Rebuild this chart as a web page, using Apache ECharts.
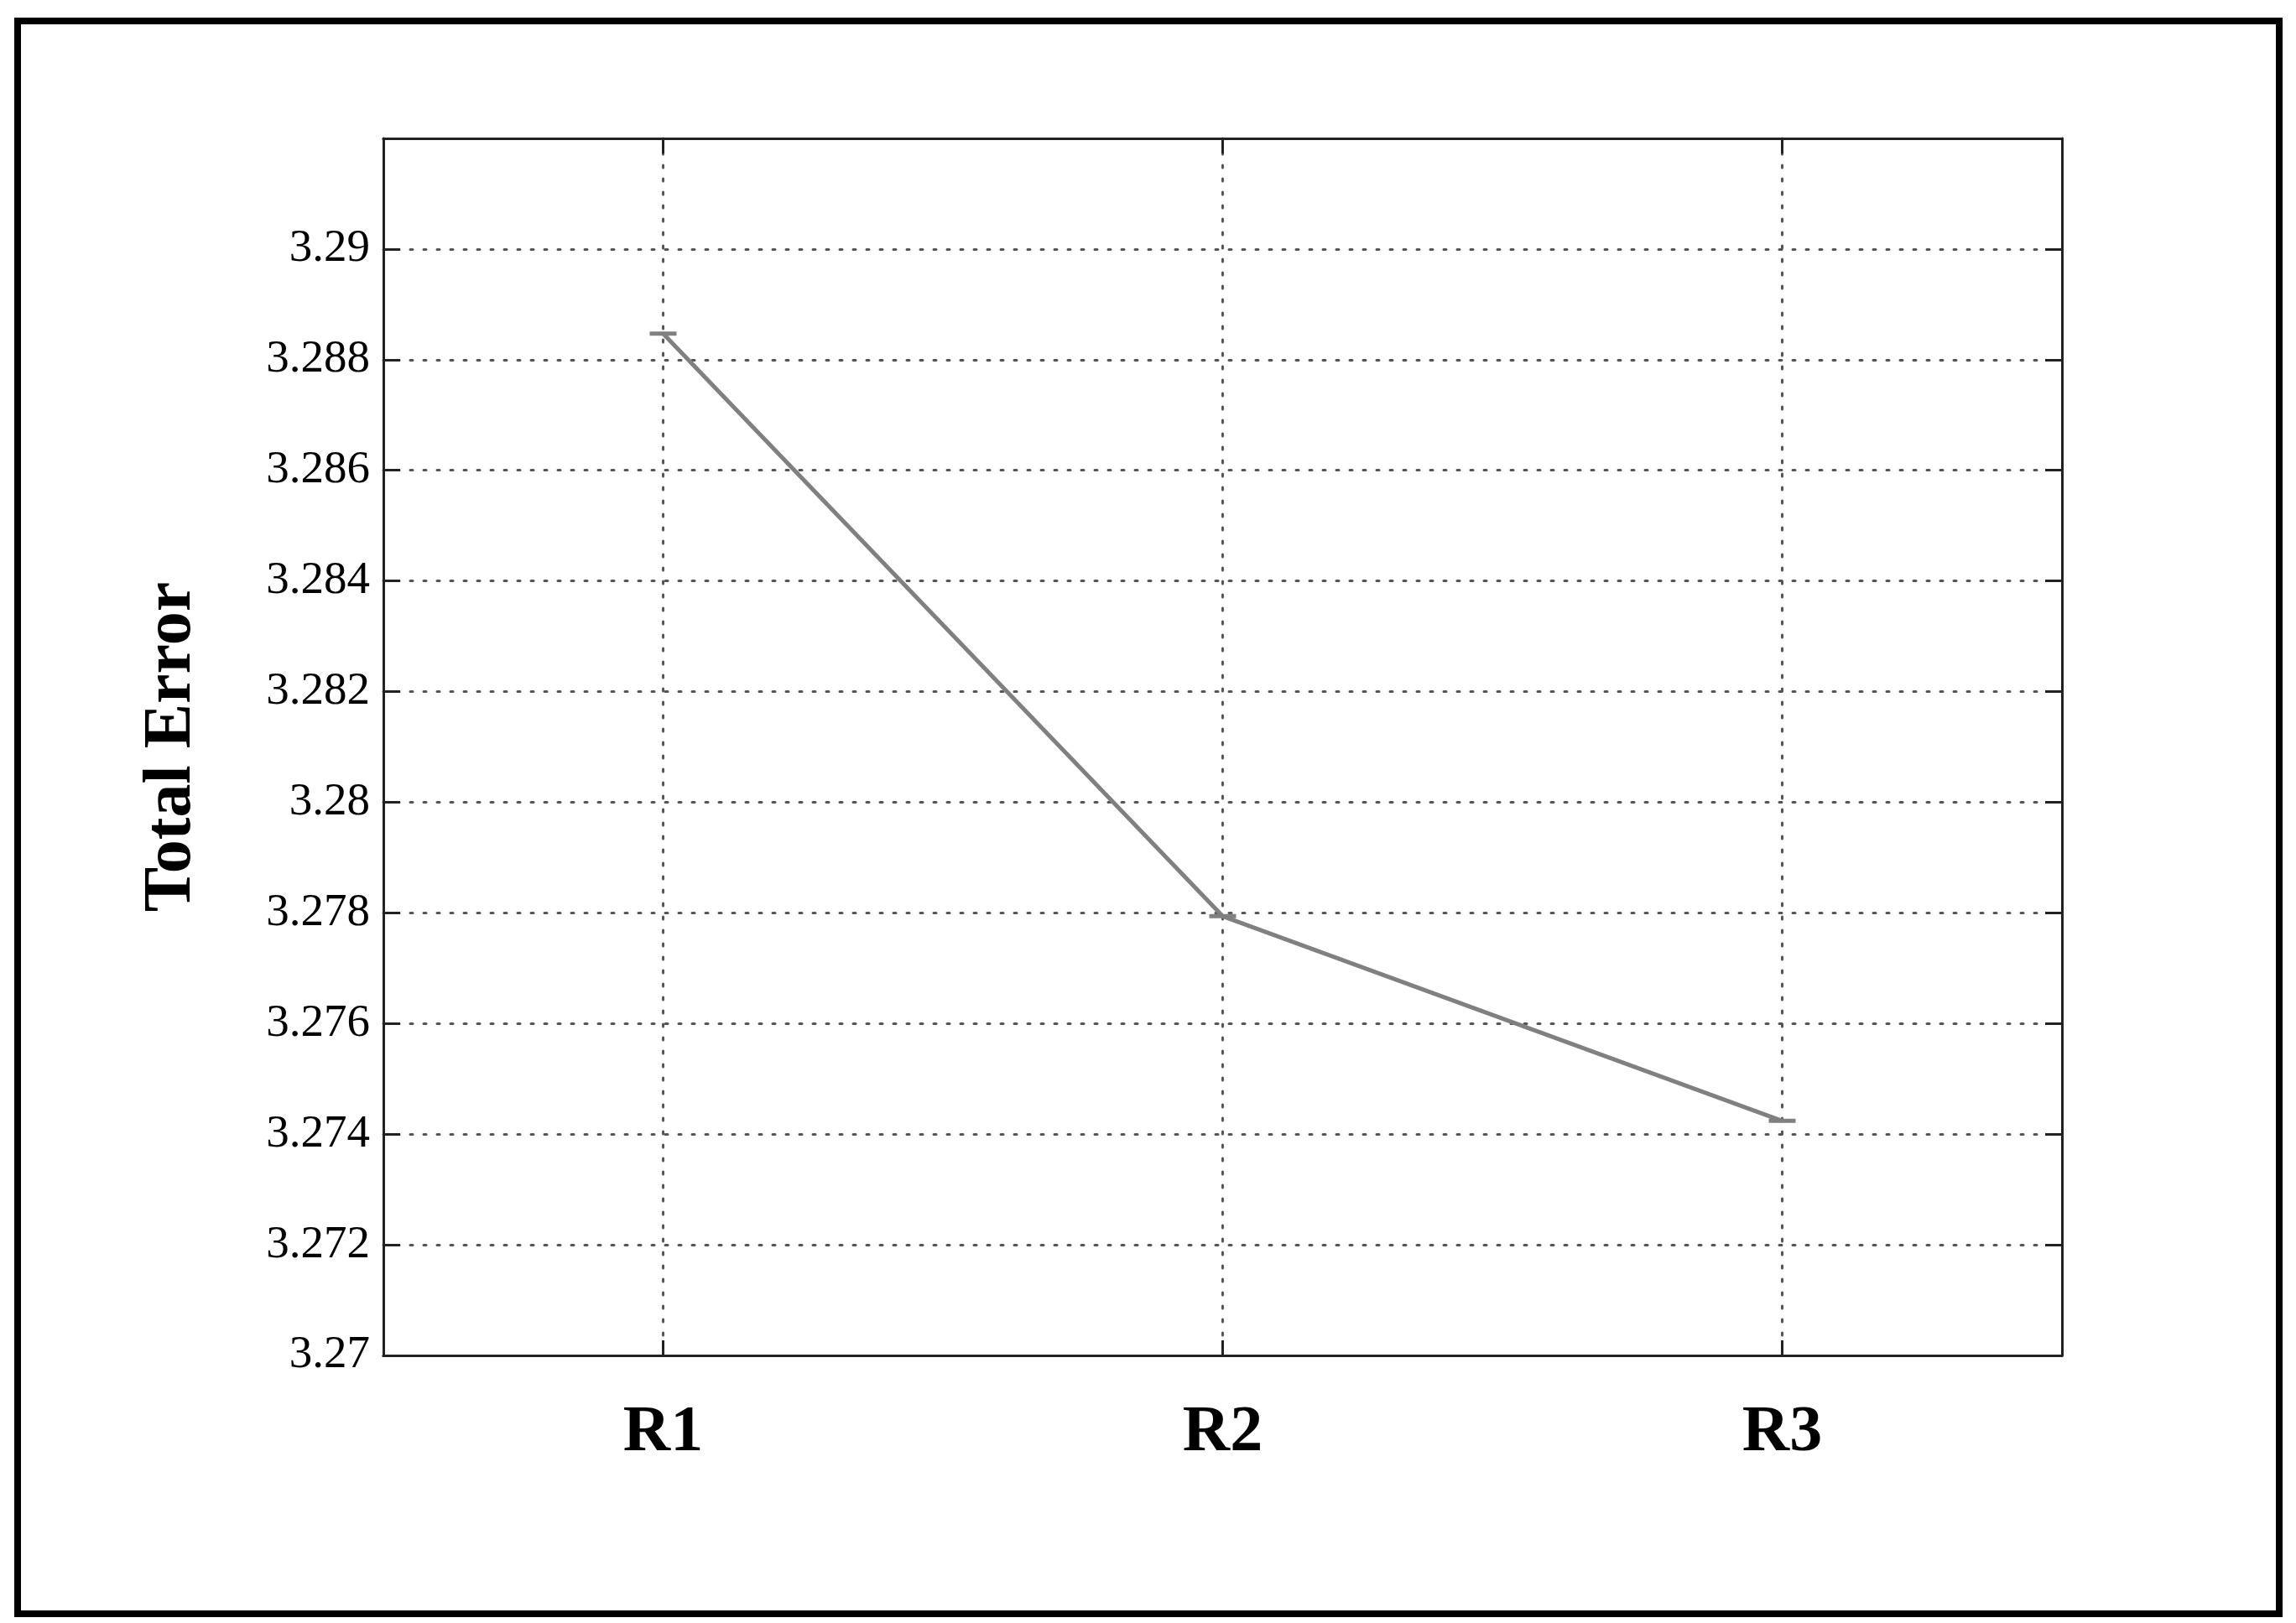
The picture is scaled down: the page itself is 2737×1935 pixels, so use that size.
<!DOCTYPE html>
<html>
<head>
<meta charset="utf-8">
<script src="https://cdn.jsdelivr.net/npm/echarts@6/dist/echarts.min.js"></script>
<style>
  html, body { margin: 0; padding: 0; background: #fff; }
  #chart { width: 2737px; height: 1935px; }
</style>
</head>
<body>
<div id="chart"></div>
<script>
// data
var categories = ['R1', 'R2', 'R3'];
var totalError = [3.28847, 3.27794, 3.27424];
var yMin = 3.27, yMax = 3.292, yStep = 0.002;

var myChart = echarts.init(document.getElementById('chart'));

var serif = '"Liberation Serif", "DejaVu Serif", serif';
var dotted = { color: '#555', width: 3, type: [3, 13], cap: 'round' };
var frame = { show: true, lineStyle: { color: '#222', width: 3 } };

option = {
    backgroundColor: '#fff',
    animation: false,
    graphic: [{
        type: 'rect',
        shape: { x: 21, y: 25, width: 2696, height: 1899 },
        style: { fill: 'none', stroke: '#000', lineWidth: 8 },
        silent: true
    }],
    grid: { left: 457, right: 279, top: 165, bottom: 319 },
    xAxis: [{
        type: 'category',
        data: categories,
        boundaryGap: true,
        axisLine: frame,
        axisTick: { show: true, inside: true, alignWithLabel: true, length: 18,
            lineStyle: { color: '#222', width: 3 } },
        axisLabel: { fontFamily: serif, fontWeight: 'bold', fontSize: 78, color: '#000', margin: 54 },
        splitLine: { show: true, alignWithLabel: true, lineStyle: dotted }
    }, {
        type: 'category',
        data: categories,
        position: 'top',
        boundaryGap: true,
        axisLine: frame,
        axisTick: { show: true, inside: true, alignWithLabel: true, length: 18,
            lineStyle: { color: '#222', width: 3 } },
        axisLabel: { show: false },
        splitLine: { show: false }
    }],
    yAxis: [{
        type: 'value',
        min: yMin,
        max: yMax,
        interval: yStep,
        name: 'Total Error',
        nameLocation: 'middle',
        nameGap: 212,
        nameTextStyle: { fontFamily: serif, fontWeight: 'bold', fontSize: 80, color: '#000' },
        axisLine: frame,
        axisTick: { show: true, inside: true, length: 20, lineStyle: { color: '#222', width: 3 } },
        axisLabel: { fontFamily: serif, fontSize: 55, color: '#000', margin: 16, showMaxLabel: false },
        splitLine: { show: true, lineStyle: dotted }
    }, {
        type: 'value',
        min: yMin,
        max: yMax,
        interval: yStep,
        position: 'right',
        axisLine: frame,
        axisTick: { show: true, inside: true, length: 20, lineStyle: { color: '#222', width: 3 } },
        axisLabel: { show: false },
        splitLine: { show: false }
    }],
    series: [{
        name: 'Total Error',
        type: 'line',
        data: totalError,
        symbol: 'rect',
        symbolSize: [32, 5],
        itemStyle: { color: '#808080' },
        lineStyle: { color: '#808080', width: 5 }
    }]
};

myChart.setOption(option);
</script>
</body>
</html>
